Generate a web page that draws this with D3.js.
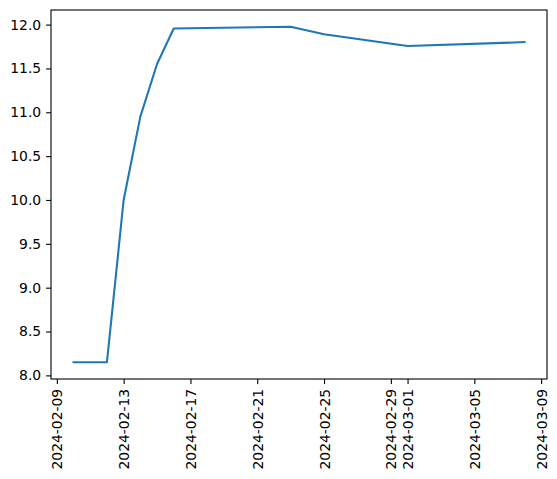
<!DOCTYPE html>
<html>
<head>
<meta charset="utf-8">
<script src="https://cdn.jsdelivr.net/npm/d3@7"></script>
<style>
  body { margin: 0; background: #fff; }
  svg { display: block; }
  .tick text { font-family: "DejaVu Sans", sans-serif; font-size: 13.9px; fill: #000; }
  .tick line { stroke: #000; stroke-width: 1.1; }
  .domain { display: none; }
</style>
</head>
<body>
<svg id="chart" width="557" height="479"></svg>
<script>
// values
const dates = ["2024-02-10", "2024-02-11", "2024-02-12", "2024-02-13", "2024-02-14", "2024-02-15",
               "2024-02-16", "2024-02-23", "2024-02-25", "2024-03-01", "2024-03-08"];
const values = [8.15, 8.15, 8.15, 10.0, 10.95, 11.55, 11.955, 11.975, 11.89, 11.755, 11.80];
const xTickLabels = ["2024-02-09", "2024-02-13", "2024-02-17", "2024-02-21", "2024-02-25",
                     "2024-02-29", "2024-03-01", "2024-03-05", "2024-03-09"];
const yTicks = [8.0, 8.5, 9.0, 9.5, 10.0, 10.5, 11.0, 11.5, 12.0];

var svg = d3.select("#chart");
var margin = {left: 51, right: 10, top: 10, bottom: 100};
var width = 557 - margin.left - margin.right,
    height = 479 - margin.top - margin.bottom;

var parse = d3.utcParse("%Y-%m-%d");
var data = dates.map(function(d, i) { return {date: parse(d), value: values[i]}; });

// matplotlib style 5% padding
var xExt = d3.extent(data, function(d) { return +d.date; });
var xPad = (xExt[1] - xExt[0]) * 0.05;
var yExt = d3.extent(values);
var yPad = (yExt[1] - yExt[0]) * 0.05;

var x = d3.scaleUtc()
    .domain([new Date(xExt[0] - xPad), new Date(xExt[1] + xPad)])
    .range([0, width]);
var y = d3.scaleLinear()
    .domain([yExt[0] - yPad, yExt[1] + yPad])
    .range([height, 0]);

var g = svg.append("g")
    .attr("transform", "translate(" + margin.left + "," + margin.top + ")");

var xAxis = g.append("g")
    .attr("transform", "translate(0," + height + ")")
    .call(d3.axisBottom(x)
      .tickValues(xTickLabels.map(parse))
      .tickSize(4.9)
      .tickPadding(4.9)
      .tickFormat(d3.utcFormat("%Y-%m-%d")));

xAxis.selectAll("text")
    .attr("text-anchor", "end")
    .attr("dy", null)
    .attr("y", 0)
    .attr("x", 0)
    .attr("dominant-baseline", "central")
    .attr("transform", "translate(0,9.8) rotate(-90)");

g.append("g")
    .call(d3.axisLeft(y)
      .tickValues(yTicks)
      .tickSize(4.9)
      .tickPadding(4.9)
      .tickFormat(d3.format(".1f")));

var line = d3.line()
    .x(function(d) { return x(d.date); })
    .y(function(d) { return y(d.value); });

g.append("path")
    .datum(data)
    .attr("fill", "none")
    .attr("stroke", "#1f77b4")
    .attr("stroke-width", 2.08)
    .attr("stroke-linejoin", "round")
    .attr("stroke-linecap", "square")
    .attr("d", line);

// frame
g.append("rect")
    .attr("width", width)
    .attr("height", height)
    .attr("fill", "none")
    .attr("stroke", "#000")
    .attr("stroke-width", 1.1);
</script>
</body>
</html>
